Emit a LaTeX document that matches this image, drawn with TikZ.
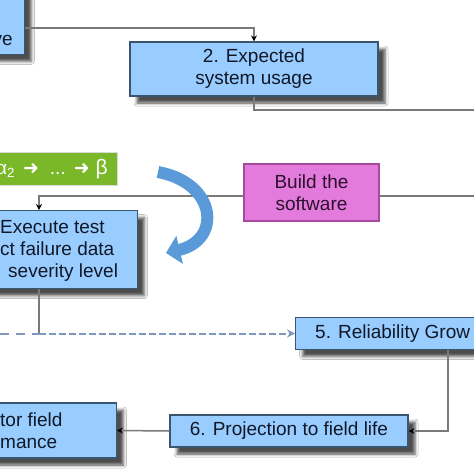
\documentclass[tikz,border=0pt]{standalone}
\usepackage{fontspec}
\setmainfont{Liberation Sans}
\newfontfamily\dejavu{DejaVu Sans}
\usetikzlibrary{arrows.meta,shadows.blur}
\definecolor{boxblue}{HTML}{99CCFF}
\definecolor{boxedge}{HTML}{3A5570}
\definecolor{buildfill}{HTML}{E27BDC}
\definecolor{buildedge}{HTML}{A64AA0}
\definecolor{buildtext}{HTML}{2E0F2C}
\definecolor{greenfill}{HTML}{7AB829}
\definecolor{linegray}{HTML}{7A7A7A}
\definecolor{dashblue}{HTML}{7E97BA}
\definecolor{curveblue}{HTML}{5A9AD8}
\definecolor{textdark}{HTML}{101828}
\begin{document}
\begin{tikzpicture}[x=1pt,y=-1pt,
  txt/.style={font=\fontsize{19}{22}\selectfont, text=textdark, inner sep=0pt},
  bluebox/.style={draw=boxedge, line width=1.2pt, fill=boxblue, inner sep=0pt,
    blur shadow={shadow xshift=7pt, shadow yshift=-7pt, shadow blur radius=3pt, shadow opacity=70}},
  buildbox/.style={draw=buildedge, line width=1.2pt, fill=buildfill, inner sep=0pt,
    font=\fontsize{19}{22}\selectfont, text=buildtext, align=center},
  greenbox/.style={draw=white!85!black, line width=1pt, fill=greenfill, inner sep=0pt},
  conn/.style={draw=linegray, line width=1.5pt},
  tip/.style={-{Stealth[length=6pt,width=6pt,color=black]}},
  dashA/.style={draw=dashblue, line width=2pt, dash pattern=on 9pt off 7pt},
  dashB/.style={draw=dashblue, line width=2pt, dash pattern=on 7pt off 3pt},
]
\useasboundingbox (0,0) rectangle (474,474);
\fill[white] (0,0) rectangle (474,474);

% boxes
\node[bluebox, minimum width=60pt, minimum height=80pt, anchor=south east] (b1) at (25,55) {};
\node[txt, anchor=base east] (t1) at (13,45) {ve};

\node[bluebox, txt, minimum width=248pt, minimum height=54pt, align=center] (b2) at (254,69) {2. Expected\\system usage};

\node[greenbox, minimum width=140pt, minimum height=33pt, anchor=east] (g) at (118,168.5) {};
\node[txt, text=white, anchor=east] (gt) at (108,169) {α\textsubscript{2}\hspace{8pt}{\dejavu\fontsize{19}{19}\selectfont ➜}\hspace{11pt}...\hspace{8pt}{\dejavu\fontsize{19}{19}\selectfont ➜}\hspace{6pt}{\fontsize{21}{21}\selectfont β}};

\node[buildbox, minimum width=135pt, minimum height=57pt] (build) at (311.5,192.5) {Build the\\software};

\node[bluebox, minimum width=170pt, minimum height=78pt, anchor=north east] (exec) at (138,210) {};
\node[txt, anchor=west, align=left] (et) at (0,251) {Execute test\\ct failure data\\\hspace{8pt}severity level};

\node[bluebox, minimum width=225pt, minimum height=32pt, anchor=west] (b5) at (295,333.5) {};
\node[txt, anchor=west] (t5) at (315,334) {5. Reliability Grow};

\node[bluebox, txt, minimum width=238pt, minimum height=32pt] (b6) at (289,431) {6. Projection to field life};

\node[bluebox, minimum width=150pt, minimum height=55pt, anchor=east] (b7) at (117,430.5) {};
\node[txt, anchor=west, align=left] (t7) at (0,431) {tor field\\mance};

% connectors
\coordinate (c1) at (254,28);
\draw[conn, tip] (b1.east |- c1) -- (c1) -- (b2.north);

\coordinate (c2) at (254,110);
\coordinate (c2r) at (474,110);
\draw[conn] (b2.south) -- (c2) -- (c2r);

\coordinate (c3r) at (474,196);
\coordinate (c3) at (39,196);
\draw[conn] (c3r) -- (build.east |- c3r);
\draw[conn, tip] (build.west |- c3) -- (c3) -- (exec.north -| c3);

\coordinate (c4) at (39,333.5);
\coordinate (c4l) at (0,333.5);
\draw[conn] (exec.south -| c4) -- (c4);
\draw[dashA] (c4l) -- (c4);
\draw[dashB, -{Stealth[open, length=8pt, width=8pt, color=dashblue]}] (c4) -- (b5.west);

\coordinate (c6) at (448,431);
\draw[conn, tip] (b5.south -| c6) -- (c6) -- (b6.east);
\draw[conn, tip] (b6.west) -- (b7.east);

% curved blue arrow
\coordinate (ca) at (158,172);
\coordinate (cb) at (166,253);
\draw[curveblue, line width=12pt, -{Triangle[length=14pt, width=28pt]}] (ca) .. controls (217,183) and (222,240) .. (cb);
\end{tikzpicture}
\end{document}
